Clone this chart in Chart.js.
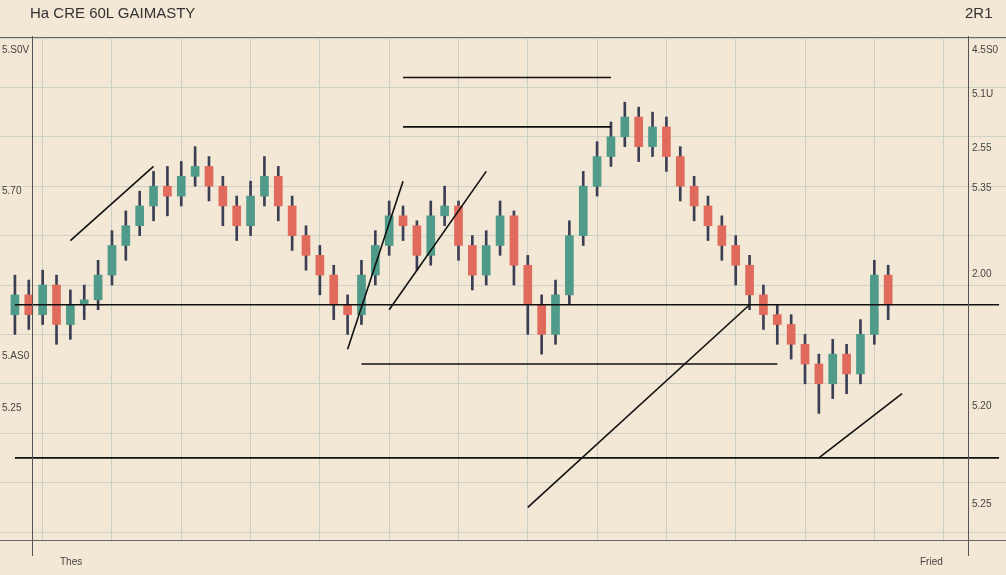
<!DOCTYPE html>
<html><head><meta charset="utf-8">
<script src="https://cdn.jsdelivr.net/npm/chart.js@4"></script>
<style>
body{margin:0;background:#f3e7d5;font-family:"Liberation Sans",sans-serif}
#wrap{position:relative;width:1006px;height:575px}
canvas{position:absolute;left:0;top:0}
.t{position:absolute;color:#333;font-size:15px}
.s{position:absolute;color:#444;font-size:10px}
.v{position:absolute;top:36px;height:520px;width:1px;background:#555}
.h{position:absolute;left:0;width:1006px;height:1px;background:#666}
</style></head><body>
<div id="wrap"><canvas id="c" width="1006" height="575"></canvas>
<div class="v" style="left:32px"></div>
<div class="v" style="left:968px"></div>
<div class="h" style="top:37px"></div>
<div class="h" style="top:540px"></div>
<div class="t" style="left:30px;top:4px">Ha CRE 60L GAIMASTY</div>
<div class="t" style="left:965px;top:4px">2R1</div>
<div class="s" style="left:2px;top:44px">5.S0V</div>
<div class="s" style="left:2px;top:185px">5.70</div>
<div class="s" style="left:2px;top:350px">5.AS0</div>
<div class="s" style="left:2px;top:402px">5.25</div>
<div class="s" style="left:972px;top:44px">4.5S0</div>
<div class="s" style="left:972px;top:88px">5.1U</div>
<div class="s" style="left:972px;top:142px">2.55</div>
<div class="s" style="left:972px;top:182px">5.35</div>
<div class="s" style="left:972px;top:268px">2.00</div>
<div class="s" style="left:972px;top:400px">5.20</div>
<div class="s" style="left:972px;top:498px">5.25</div>
<div class="s" style="left:60px;top:556px">Thes</div>
<div class="s" style="left:920px;top:556px">Fried</div>
</div>
<script>
var opens  = [44,48,44,50,42,46, 47,52,58,62,66,70,68,72,74, 70,66,62,68,72,66, 60,56,52,46, 44,52,58,64,62,56,64,66, 58,52,58,64,54,46, 40,48,60,70,76,80,84,78,82, 76,70,66,62,58,54,48, 44,42,38,34,30,36,32, 40,52];
var closes = [48,44,50,42,46,47, 52,58,62,66,70,68,72,74,70, 66,62,68,72,66,60, 56,52,46,44, 52,58,64,62,56,64,66,58, 52,58,64,54,46,40, 48,60,70,76,80,84,78,82,76, 70,66,62,58,54,48,44, 42,38,34,30,36,32,40, 52,46];
var highs  = [52,51,53,52,49,50, 55,61,65,69,73,74,75,78,76, 72,68,71,76,74,68, 62,58,54,48, 55,61,67,66,63,67,70,67, 60,61,67,65,56,48, 51,63,73,79,83,87,86,85,84, 78,72,68,64,60,56,50, 46,44,40,36,39,38,43, 55,54];
var lows   = [40,41,42,38,39,43, 45,50,55,60,63,64,66,70,67, 62,59,60,66,63,57, 53,48,43,40, 42,50,56,59,53,54,62,55, 49,50,56,50,40,36, 38,46,58,68,74,78,75,76,73, 67,63,59,55,50,45,41, 38,35,30,24,27,28,30, 38,43];
var nSlots = 72;
var labels = [];
for (var i = 0; i < nSlots; i++) labels.push(i);
// trend lines: [fromIndex, fromValue, toIndex, toValue]
var trendLines = [
  [4, 59, 10, 74],
  [24, 37, 28, 71],
  [27, 45, 34, 73],
  [37, 5, 53, 46],
  [58, 15, 64, 28],
  [0, 46, 71, 46],
  [25, 34, 55, 34],
  [0, 15, 71, 15],
  [28, 82, 43, 82],
  [28, 92, 43, 92]
];

var up = '#4f9a88', down = '#e06a5c';
var bodies = [], wicks = [], cols = [];
for (var i = 0; i < nSlots; i++) {
  if (i < closes.length) {
    bodies.push([opens[i], closes[i]]);
    wicks.push([lows[i], highs[i]]);
    cols.push(closes[i] >= opens[i] ? up : down);
  } else { bodies.push(null); wicks.push(null); cols.push(up); }
}
var datasets = [
  {type:'bar', data:wicks, backgroundColor:'#3b3f55', barThickness:2, grouped:false, order:2},
  {type:'bar', data:bodies, backgroundColor:cols, barThickness:8, grouped:false, order:1}
];
trendLines.forEach(function(t){
  var d = labels.map(function(){return null;});
  d[t[0]] = t[1]; d[t[2]] = t[3];
  datasets.push({type:'line', data:d, borderColor:'#111', borderWidth:1.6, pointRadius:0, spanGaps:true, order:0});
});

new Chart(document.getElementById('c'), {
  data: {labels: labels, datasets: datasets},
  options: {
    responsive:false, animation:false,
    layout:{padding:{top:38,bottom:35}},
    plugins:{legend:{display:false}, tooltip:{enabled:false}},
    scales:{
      x:{offset:true, ticks:{display:false}, border:{display:false},
         grid:{offset:false, color:function(c){return c.index % 5 == 2 ? '#c9cfc4' : 'rgba(0,0,0,0)';}}},
      y:{min:0, max:100, ticks:{display:false, stepSize:10}, border:{display:false},
         grid:{color:'#cfd2c6'}}
    }
  }
});
</script>
</body></html>
